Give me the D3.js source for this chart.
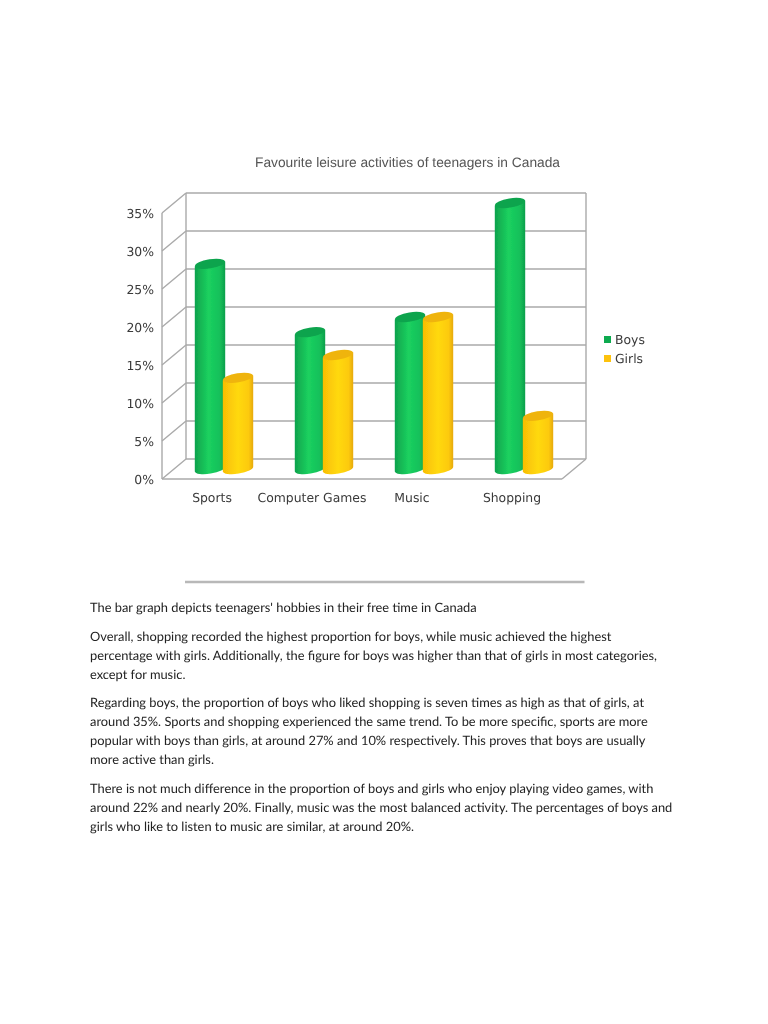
<!DOCTYPE html>
<html><head><meta charset="utf-8">
<script src="https://cdnjs.cloudflare.com/ajax/libs/d3/7.8.5/d3.min.js"></script>
<style>html,body{margin:0;padding:0;background:#fff}svg{display:block;text-rendering:geometricPrecision}</style>
</head><body><svg id="c" width="768" height="1024"></svg>
<script>
const title = "Favourite leisure activities of teenagers in Canada";
const categories = ["Sports","Computer Games","Music","Shopping"];
const boys = [27,18,20,35];
const girls = [12,15,20,7];
const yTicks = [0,5,10,15,20,25,30,35];
const seriesNames = ["Boys","Girls"];
const bodyLines = [
 ["The bar graph depicts teenagers' hobbies in their free time in Canada",607],
 ["Overall, shopping recorded the highest proportion for boys, while music achieved the highest",636],
 ["percentage with girls. Additionally, the figure for boys was higher than that of girls in most categories,",655],
 ["except for music.",674],
 ["Regarding boys, the proportion of boys who liked shopping is seven times as high as that of girls, at",702],
 ["around 35%. Sports and shopping experienced the same trend. To be more specific, sports are more",721],
 ["popular with boys than girls, at around 27% and 10% respectively. This proves that boys are usually",740],
 ["more active than girls.",759],
 ["There is not much difference in the proportion of boys and girls who enjoy playing video games, with",788],
 ["around 22% and nearly 20%. Finally, music was the most balanced activity. The percentages of boys and",807],
 ["girls who like to listen to music are similar, at around 20%.",826]
];

const svg = d3.select("#c");
const defs = svg.append("defs");
function grad(id, stops){
  const g = defs.append("linearGradient").attr("id",id).attr("x1","0").attr("x2","1").attr("y1","0").attr("y2","0");
  stops.forEach(s=>g.append("stop").attr("offset",s[0]).attr("stop-color",s[1]));
}
grad("gBoys",[[0,"#0fa24c"],[0.45,"#1bd15f"],[0.82,"#15c05a"],[1,"#0e9f4a"]]);
grad("gGirls",[[0,"#f8bd05"],[0.5,"#ffd90a"],[0.85,"#fdca08"],[1,"#e6a90e"]]);
const soft = (id,sd)=>defs.append("filter").attr("id",id).attr("x","-5%").attr("y","-5%").attr("width","110%").attr("height","110%")
  .append("feGaussianBlur").attr("stdDeviation",sd);
soft("soft",0.45); soft("softText",0.25);

const left=162, right=562, floorY=479, topY=213, dx=24, dy=-20;
const y = d3.scaleLinear().domain([0,35]).range([floorY,topY]);
const x = d3.scaleBand().domain(categories).range([left,right]);
const sub = d3.scaleBand().domain(seriesNames).range([34,90]);

const chart = svg.append("g").attr("filter","url(#soft)");
const gridCol="#aaaaaa";
const grid = chart.append("g").attr("stroke",gridCol).attr("stroke-width",1.4).attr("fill","none");
yTicks.forEach(t=>{
  grid.append("line").attr("x1",left+dx).attr("x2",right+dx).attr("y1",y(t)+dy).attr("y2",y(t)+dy);
  grid.append("line").attr("x1",left).attr("x2",left+dx).attr("y1",y(t)).attr("y2",y(t)+dy);
});
grid.append("line").attr("x1",left).attr("x2",left).attr("y1",y(0)).attr("y2",y(35));
grid.append("line").attr("x1",left+dx).attr("x2",left+dx).attr("y1",y(0)+dy).attr("y2",y(35)+dy);
grid.append("line").attr("x1",right+dx).attr("x2",right+dx).attr("y1",y(0)+dy).attr("y2",y(35)+dy);
grid.append("line").attr("x1",left).attr("x2",right).attr("y1",y(0)).attr("y2",y(0));
grid.append("line").attr("x1",right).attr("x2",right+dx).attr("y1",y(0)).attr("y2",y(0)+dy);

const rx=15.2, ry=4.6, rot=-9, lift=2.4, depth=-10;
function cyl(g, cx, v, fill, cap){
  const top=y(v)+depth, bot=y(0)+depth;
  g.append("path").attr("fill",fill).attr("d",
    `M${cx-rx},${top+lift} L${cx-rx},${bot+lift} A${rx},${ry} ${rot} 0 0 ${cx+rx},${bot-lift} L${cx+rx},${top-lift} Z`);
  g.append("ellipse").attr("cx",cx).attr("cy",top).attr("rx",rx).attr("ry",ry)
    .attr("transform",`rotate(${rot} ${cx} ${top})`).attr("fill",cap);
}
const bars = chart.append("g");
categories.forEach((c,i)=>{
  const base = x(c);
  cyl(bars, base+sub("Boys")+sub.bandwidth()/2, boys[i], "url(#gBoys)", "#0ea44e");
  cyl(bars, base+sub("Girls")+sub.bandwidth()/2, girls[i], "url(#gGirls)", "#efb40a");
});

const tickFont="'DejaVu Sans',sans-serif";
const txt = chart.append("g").attr("fill","#3a3a3a").attr("font-family",tickFont).attr("font-size",12.4);
txt.selectAll("text.yt").data(yTicks).join("text").attr("class","yt")
  .attr("x",154).attr("y",d=>y(d)+4.5).attr("text-anchor","end").text(d=>d+"%");
txt.selectAll("text.xt").data(categories).join("text").attr("class","xt")
  .attr("x",d=>x(d)+x.bandwidth()/2).attr("y",502).attr("text-anchor","middle").text(d=>d);

chart.append("text").attr("x",407.5).attr("y",167).attr("text-anchor","middle")
  .attr("font-family","'Liberation Sans',Arial,sans-serif").attr("font-size",13.75).attr("fill","#555").text(title);

const legY = d3.scalePoint().domain(seriesNames).range([339.5,358.5]);
const legColor = d3.scaleOrdinal().domain(seriesNames).range(["#0eaa50","#fdc208"]);
seriesNames.forEach(s=>{
  chart.append("rect").attr("x",604).attr("y",legY(s)-3.5).attr("width",7).attr("height",7).attr("fill",legColor(s));
  chart.append("text").attr("x",615).attr("y",legY(s)+4.5).attr("font-family",tickFont).attr("font-size",12.4).attr("fill","#3a3a3a").text(s);
});

chart.append("line").attr("x1",185).attr("x2",584.5).attr("y1",582).attr("y2",582).attr("stroke","#b8b8b8").attr("stroke-width",2.6);

svg.append("g").attr("filter","url(#softText)").attr("font-family","Lato,'Noto Sans',sans-serif").attr("font-size",12.85).attr("fill","#222")
  .selectAll("text").data(bodyLines).join("text")
  .attr("x",90).attr("y",d=>d[1]+4.5).text(d=>d[0]);
</script></body></html>
